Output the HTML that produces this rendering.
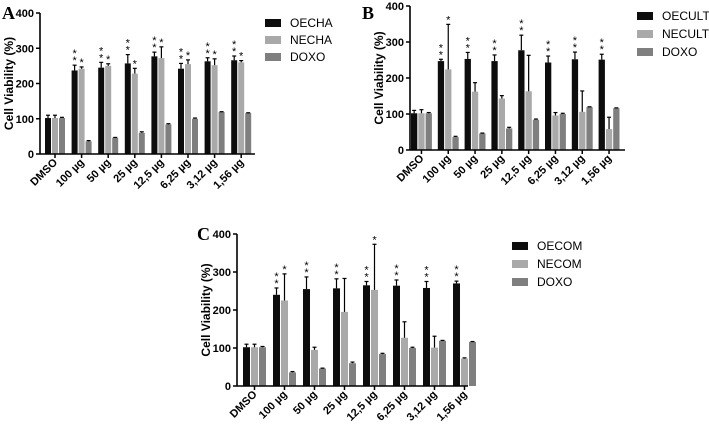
<!DOCTYPE html>
<html><head><meta charset="utf-8">
<style>
html,body{margin:0;padding:0;background:#fff;}
svg{display:block;}
svg text{font-family:"Liberation Sans",Arial,sans-serif;}
</style></head>
<body>
<svg id="chart" width="709" height="426" viewBox="0 0 709 426" xmlns="http://www.w3.org/2000/svg"></svg>
<script>
const categories = ["DMSO","100 \u00b5g","50 \u00b5g","25 \u00b5g","12,5 \u00b5g","6,25 \u00b5g","3,12 \u00b5g","1,56 \u00b5g"];
const yTicks = [0,100,200,300,400];
const doxoValues = [102,36,46,60,84,100,119,116];
const doxoErr = [2,2,1,3,2,2,1,1];

const aOE = [102,237,245,257,277,242,263,266];
const aOEerr = [8,15,15,25,12,15,10,12];
const aNE = [102,242,250,228,272,255,252,260];
const aNEerr = [8,5,6,15,32,12,18,5];
const aOEstars = [0,2,2,2,2,2,2,2];
const aNEstars = [0,1,1,1,1,1,1,1];

const bOE = [102,247,253,247,277,243,252,251];
const bOEerr = [8,5,18,17,42,18,20,15];
const bNE = [102,224,162,143,163,96,106,58];
const bNEerr = [10,125,25,8,100,8,58,33];
const bOEstars = [0,2,2,2,2,2,2,2];
const bNEstars = [0,1,0,0,0,0,0,0];

const cOE = [102,240,255,257,265,264,258,270];
const cOEerr = [8,18,32,25,10,15,17,6];
const cNE = [102,225,95,195,253,127,101,72];
const cNEerr = [8,70,7,88,120,42,30,2];
const cOEstars = [0,2,2,2,2,2,2,2];
const cNEstars = [0,1,0,0,1,0,0,0];

const NS = "http://www.w3.org/2000/svg";
const svg = document.getElementById('chart');
function mk(tag, attrs, parent){const e=document.createElementNS(NS,tag);for(const k in attrs)e.setAttribute(k,attrs[k]);(parent||svg).appendChild(e);return e;}

const colors = ["#0d0d0d","#a9a9a9","#7f7f7f"];

function panel(p){
  const g = mk('g',{});
  
  
  const y = v => p.y0 - v/400*(p.y0-p.y400);
  const gx = i => p.firstX + i*p.spacing;
  const L = mk('text',{x:p.lx,y:p.ly,style:'font-family:"Liberation Serif",serif','font-weight':'bold','font-size':'18'},g);
  L.textContent = p.letter;
  
  
  const yt = mk('text',{x:0,y:0,'font-weight':'bold','font-size':'12','text-anchor':'middle',transform:`translate(${p.ax-27},${(p.y0+p.y400)/2}) rotate(-90)`},g);
  yt.textContent = 'Cell Viability (%)';
  
  
  const series = [[p.oe,p.oeErr,p.oeStars],[p.ne,p.neErr,p.neStars],[doxoValues,doxoErr,null]];
  series.forEach((s,si)=>{
    s[0].forEach((v,i)=>{
      const x = gx(i) + si*(p.bw+1);
      const r = mk('rect',{x:x,y:y(v),width:p.bw,height:p.y0-y(v),fill:colors[si]},g);
      
      
      const cx = x + p.bw/2, top = y(v+s[1][i]);
      mk('line',{x1:cx,y1:y(v),x2:cx,y2:top,stroke:'#000','stroke-width':1.2},g);
      mk('line',{x1:cx-2,y1:top,x2:cx+2,y2:top,stroke:'#000','stroke-width':1.2},g);
      if(s[2] && s[2][i]>0){
        for(let k=0;k<s[2][i];k++){
          const st = mk('text',{x:cx,y:top-1-k*7,'font-size':'11','text-anchor':'middle'},g);
          st.textContent='*';
          
          
        }
      }
    });
  });
  mk('line',{x1:p.ax,y1:p.y400,x2:p.ax,y2:p.y0,stroke:'#000','stroke-width':1.6},g);
  mk('line',{x1:p.ax,y1:p.y0,x2:p.xEnd,y2:p.y0,stroke:'#000','stroke-width':1.6},g);
  yTicks.forEach(t=>{
    mk('line',{x1:p.ax-4,y1:y(t),x2:p.ax,y2:y(t),stroke:'#000','stroke-width':1.5},g);
    const tl = mk('text',{x:p.ax-6,y:y(t)+4,'font-size':'11','font-weight':'bold','text-anchor':'end'},g);
    tl.textContent = t;
    
    
  });
  categories.forEach((c,i)=>{
    const cx = gx(i) + (3*p.bw+2)/2;
    mk('line',{x1:cx,y1:p.y0,x2:cx,y2:p.y0+4,stroke:'#000','stroke-width':1.5},g);
    const tl = mk('text',{x:0,y:0,'font-size':'11','font-weight':'bold','text-anchor':'end',transform:`translate(${cx+3},${p.y0+9}) rotate(-45)`},g);
    tl.textContent = c;
    
    
  });
  p.names.forEach((n,i)=>{
    const ly = p.legY + i*p.legStep;
    const r = mk('rect',{x:p.legX,y:ly,width:16,height:8,fill:colors[i]},g);
    
    
    const t = mk('text',{x:p.legX+25,y:ly+8,'font-size':'12'},g);
    t.textContent = n;
    
    
  });
}

panel({letter:'A',lx:2,ly:19,ax:40,y0:154,y400:13,xEnd:255,firstX:45,spacing:26.6,bw:6,
  oe:aOE,oeErr:aOEerr,ne:aNE,neErr:aNEerr,oeStars:aOEstars,neStars:aNEstars,
  names:['OECHA','NECHA','DOXO'],legX:265,legY:19,legStep:17});
panel({letter:'B',lx:362,ly:19,ax:410,y0:150,y400:6,xEnd:625,firstX:411,spacing:26.8,bw:6.3,
  oe:bOE,oeErr:bOEerr,ne:bNE,neErr:bNEerr,oeStars:bOEstars,neStars:bNEstars,
  names:['OECULT','NECULT','DOXO'],legX:637,legY:12,legStep:18});
panel({letter:'C',lx:197,ly:240,ax:237,y0:386,y400:234,xEnd:468,firstX:243,spacing:30,bw:7,
  oe:cOE,oeErr:cOEerr,ne:cNE,neErr:cNEerr,oeStars:cOEstars,neStars:cNEstars,
  names:['OECOM','NECOM','DOXO'],legX:512,legY:242,legStep:18});
</script>
</body></html>
